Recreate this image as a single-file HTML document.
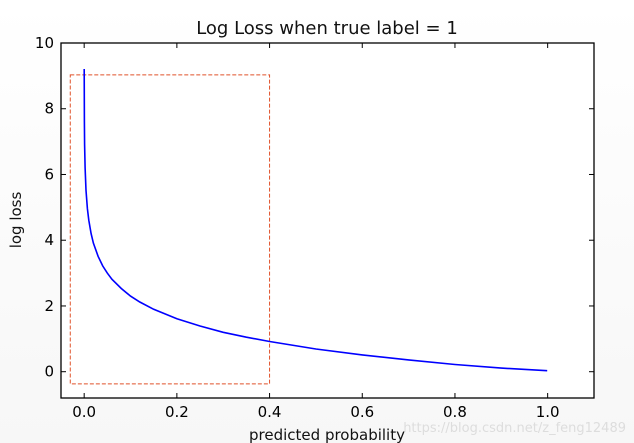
<!DOCTYPE html>
<html><head><meta charset="utf-8"><style>
body{margin:0;background:#fff;}
svg{display:block;font-family:"DejaVu Sans","Liberation Sans",sans-serif;}
</style></head><body>
<svg id="chart" width="634" height="443" viewBox="0 0 634 443">
<defs><linearGradient id="bg" x1="0" y1="0" x2="0" y2="1"><stop offset="0" stop-color="#ffffff"/><stop offset="1" stop-color="#f7f7f7"/></linearGradient></defs>
<rect width="634" height="443" fill="url(#bg)"/>
<g id="plot"></g>
</svg>
<script>
const xTicks=[0.0,0.2,0.4,0.6,0.8,1.0];
const xTickLabels=["0.0","0.2","0.4","0.6","0.8","1.0"];
const yTicks=[0,2,4,6,8,10];
const yTickLabels=["0","2","4","6","8","10"];
const probs=[0.0001,0.0005,0.001,0.002,0.004,0.007,0.01,0.015,0.02,0.03,0.04,0.05,0.06,0.08,0.1,0.12,0.15,0.2,0.25,0.3,0.35,0.4,0.5,0.6,0.7,0.8,0.9,0.999];
const losses=[9.21,7.6,6.91,6.21,5.52,4.96,4.61,4.2,3.91,3.51,3.22,3.0,2.81,2.53,2.3,2.12,1.9,1.61,1.39,1.2,1.05,0.92,0.69,0.51,0.36,0.22,0.11,0.03];
const boxX=[-0.03,0.40];
const boxY=[-0.37,9.03];
const L=61,R=594,T=43,B=398,xmin=-0.05,xmax=1.1,ymin=-0.8,ymax=10;
const sx=v=>L+(v-xmin)/(xmax-xmin)*(R-L);
const sy=v=>B-(v-ymin)/(ymax-ymin)*(B-T);
const g=document.getElementById('plot');const NS='http://www.w3.org/2000/svg';
function mk(t,a,name,txt){const e=document.createElementNS(NS,t);for(const k in a)e.setAttribute(k,a[k]);


if(txt!==undefined)e.textContent=txt;g.appendChild(e);return e;}
mk('rect',{x:L,y:T,width:R-L,height:B-T,fill:'#fff',stroke:'none'},'plot-area');
mk('rect',{x:sx(boxX[0]),y:sy(boxY[1]),width:sx(boxX[1])-sx(boxX[0]),height:sy(boxY[0])-sy(boxY[1]),fill:'none',stroke:'#e0522a','stroke-width':1,'stroke-dasharray':'4,2'},'highlight-box');
let d='';probs.forEach((p,i)=>{d+=(i?'L':'M')+sx(p).toFixed(1)+','+sy(losses[i]).toFixed(1);});
mk('path',{d:d,fill:'none',stroke:'#0000ff','stroke-width':1.6},'log-loss-line');
mk('rect',{x:L,y:T,width:R-L,height:B-T,fill:'none',stroke:'#000','stroke-width':1.3},'axes-frame');
xTicks.forEach((v,i)=>{const x=sx(v);
mk('line',{x1:x,x2:x,y1:B,y2:B-5,stroke:'#000'},'x-tick');
mk('line',{x1:x,x2:x,y1:T,y2:T+5,stroke:'#000'},'x-tick-top');
mk('text',{x:x,y:B+19,'text-anchor':'middle','font-size':15,fill:'#000'},'x-tick-label',xTickLabels[i]);});
yTicks.forEach((v,i)=>{const y=sy(v);
mk('line',{x1:L,x2:L+5,y1:y,y2:y,stroke:'#000'},'y-tick');
mk('line',{x1:R,x2:R-5,y1:y,y2:y,stroke:'#000'},'y-tick-right');
mk('text',{x:L-7,y:y+5,'text-anchor':'end','font-size':15,fill:'#000'},'y-tick-label',yTickLabels[i]);});
mk('text',{x:327,y:34,'text-anchor':'middle','font-size':18,fill:'#111'},'chart-title','Log Loss when true label = 1');
mk('text',{x:327,y:440,'text-anchor':'middle','font-size':15,fill:'#111'},'x-axis-title','predicted probability');
mk('text',{x:21,y:220,'text-anchor':'middle','font-size':15,fill:'#111',transform:'rotate(-90 21 220)'},'y-axis-title','log loss');
mk('text',{x:626,y:432,'text-anchor':'end','font-size':13,fill:'#ddd'},'watermark','https://blog.csdn.net/z_feng12489');
</script>
</body></html>
